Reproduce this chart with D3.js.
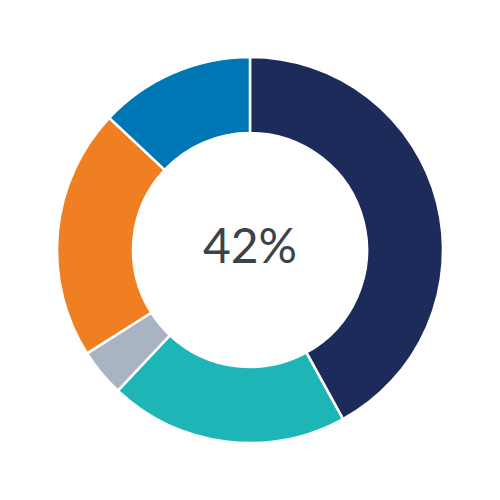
<!DOCTYPE html>
<html>
<head>
<meta charset="utf-8">
<script src="https://cdn.jsdelivr.net/npm/d3@7"></script>
<style>
  html, body { margin: 0; padding: 0; background: #fff; }
</style>
</head>
<body>
<svg width="500" height="500"></svg>
<script>
const categories = ["A", "B", "C", "D", "E"];
const values = [42, 20, 4, 21, 13];
const colors = ["#1d2b5a", "#1db5b6", "#a9b3c1", "#f07f22", "#0077b5"];
const centerLabel = "42%";

const svg = d3.select("svg");
const g = svg.append("g").attr("transform", "translate(250,250)");

const pie = d3.pie().sort(null).value(d => d.v);
const arc = d3.arc().innerRadius(117).outerRadius(193);

const color = d3.scaleOrdinal().domain(categories).range(colors);

g.selectAll("path")
  .data(pie(categories.map((c, i) => ({ c: c, v: values[i] }))))
  .enter()
  .append("path")
  .attr("d", arc)
  .attr("fill", d => color(d.data.c))
  .attr("stroke", "#fff")
  .attr("stroke-width", 2.5);

g.append("text")
  .attr("x", 0)
  .attr("y", 13)
  .attr("text-anchor", "middle")
  .attr("font-family", "Lato")
  .attr("font-weight", 400)
  .attr("font-size", 48)
  .attr("fill", "#3c4348")
  .text(centerLabel);
</script>
</body>
</html>
